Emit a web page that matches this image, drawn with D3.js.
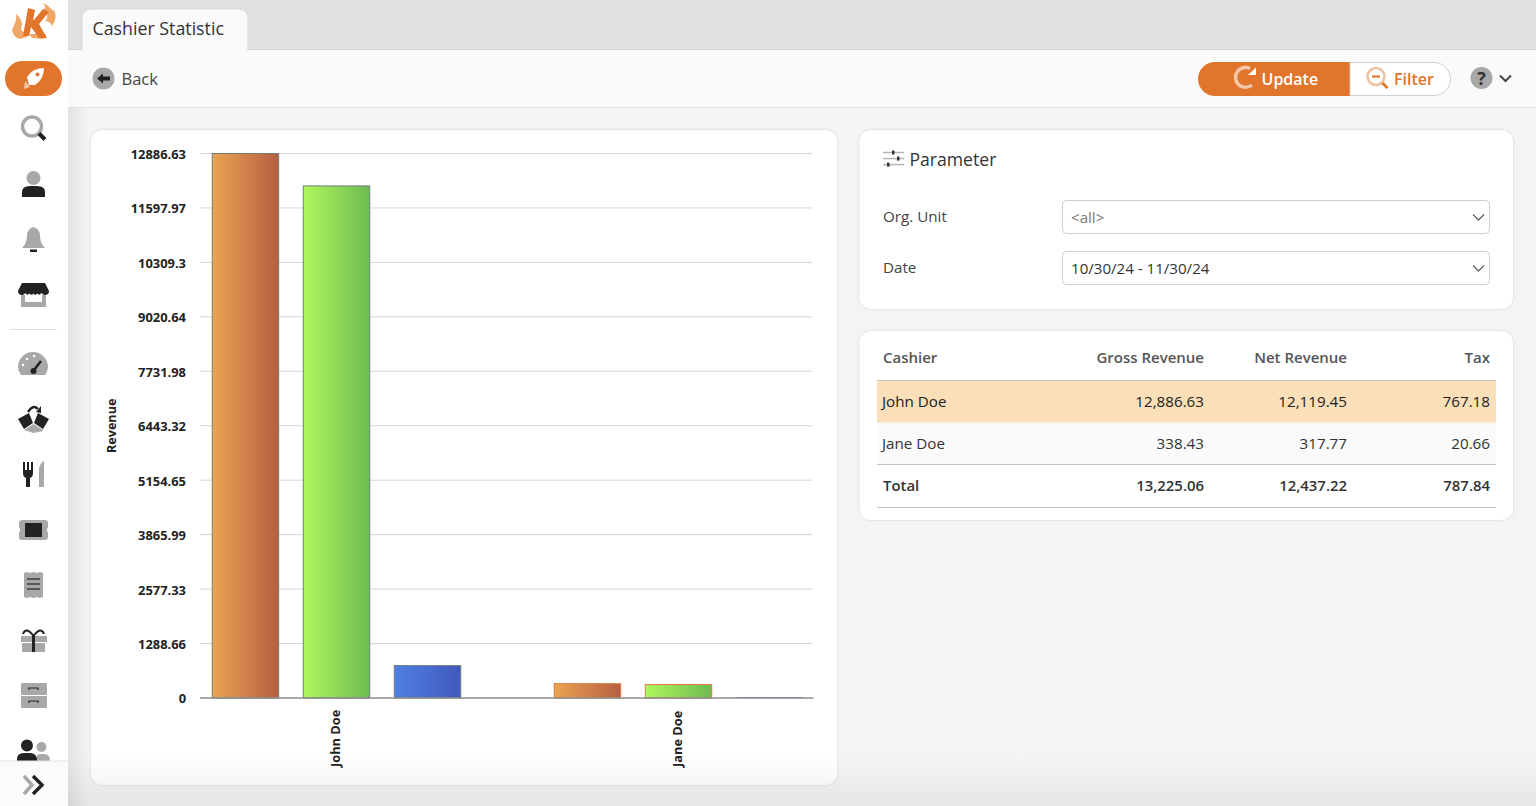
<!DOCTYPE html>
<html>
<head>
<meta charset="utf-8">
<title>Cashier Statistic</title>
<script src="https://cdnjs.cloudflare.com/ajax/libs/d3/7.8.5/d3.min.js"></script>
<style>
  html, body { margin: 0; padding: 0; background: #f4f4f4; overflow: hidden; }
  svg { display: block; font-family: "Open Sans", sans-serif; }
</style>
</head>
<body>
<svg id="page" width="1536" height="806"></svg>
<script>
// Chart data
const cashiers = ['John Doe', 'Jane Doe'];
const measures = ['Gross Revenue', 'Net Revenue', 'Tax'];
const grossRevenue = [12886.63, 338.43];
const netRevenue = [12119.45, 317.77];
const taxValues = [767.18, 20.66];
const yTicks = [0, 1288.66, 2577.33, 3865.99, 5154.65, 6443.32, 7731.98, 9020.64, 10309.3, 11597.97, 12886.63];

// Table data
const tableHeader = ['Cashier', 'Gross Revenue', 'Net Revenue', 'Tax'];
const grossLabels = ['12,886.63', '338.43', '13,225.06'];
const netLabels = ['12,119.45', '317.77', '12,437.22'];
const taxLabels = ['767.18', '20.66', '787.84'];
const rowNames = ['John Doe', 'Jane Doe', 'Total'];

const ORANGE = '#e2752c';
const DARK = '#222';
const GREY = '#a8a8a8';

const svg = d3.select('#page');
const defs = svg.append('defs');

function gradient(id, from, to) {
  const g = defs.append('linearGradient').attr('id', id);
  g.append('stop').attr('offset', '0%').attr('stop-color', from);
  g.append('stop').attr('offset', '100%').attr('stop-color', to);
}
gradient('barGross', '#eba452', '#b65e42');
gradient('barNet', '#b0f65c', '#6dbb52');
gradient('barTax', '#4f80e2', '#4158bd');

const shade = defs.append('linearGradient').attr('id', 'bottomShade').attr('x2', 0).attr('y2', 1);
shade.append('stop').attr('offset', '0%').attr('stop-color', '#000').attr('stop-opacity', 0);
shade.append('stop').attr('offset', '100%').attr('stop-color', '#000').attr('stop-opacity', 0.06);

const sideShade = defs.append('linearGradient').attr('id', 'sideShade');
sideShade.append('stop').attr('offset', '0%').attr('stop-color', '#000').attr('stop-opacity', 0.07);
sideShade.append('stop').attr('offset', '100%').attr('stop-color', '#000').attr('stop-opacity', 0);

const filter = defs.append('filter').attr('id', 'cardShadow')
  .attr('x', '-5%').attr('y', '-5%').attr('width', '110%').attr('height', '110%');
filter.append('feDropShadow').attr('dx', 0).attr('dy', 0).attr('stdDeviation', 1.2)
  .attr('flood-color', '#000').attr('flood-opacity', 0.18);

// Page frame
svg.append('rect').attr('width', 1536).attr('height', 806).attr('fill', '#f4f4f4');
svg.append('rect').attr('x', 68).attr('width', 1468).attr('height', 49).attr('fill', '#e0e0e0');
svg.append('rect').attr('x', 68).attr('y', 49).attr('width', 1468).attr('height', 58).attr('fill', '#fafafa');
svg.append('line').attr('x1', 68).attr('x2', 1536).attr('y1', 107.5).attr('y2', 107.5).attr('stroke', '#e2e2e2');
svg.append('line').attr('x1', 68).attr('x2', 1536).attr('y1', 49.5).attr('y2', 49.5).attr('stroke', '#d4d4d4');

// Tab
svg.append('path')
  .attr('d', 'M82 50V19Q82 9 92 9H238Q248 9 248 19V50Z')
  .attr('fill', '#fafafa').attr('stroke', '#d9d9d9');
svg.append('rect').attr('x', 83).attr('y', 48).attr('width', 164).attr('height', 3).attr('fill', '#fafafa');
svg.append('text').attr('x', 92.5).attr('y', 35).attr('font-size', 17.8).attr('fill', '#333').text('Cashier Statistic');

// Back button
svg.append('circle').attr('cx', 103.5).attr('cy', 78.5).attr('r', 11).attr('fill', GREY);
svg.append('path').attr('d', 'M97 78.5L103 73.5V76.5H110V80.5H103V83.5Z').attr('fill', DARK);
svg.append('text').attr('x', 121.5).attr('y', 84.5).attr('font-size', 16.5).attr('fill', '#444').text('Back');

// Update / Filter buttons
svg.append('path').attr('d', 'M1215 62H1350V96H1215A17 17 0 0 1 1215 62Z').attr('fill', ORANGE);
svg.append('path').attr('d', 'M1350 62.5H1434A16.5 16.5 0 0 1 1434 95.5H1350Z').attr('fill', '#fff').attr('stroke', '#d0d0d0');
svg.append('path').attr('d', 'M1250 68.5A10 10 0 1 0 1252 85').attr('fill', 'none').attr('stroke', '#f3c9a8').attr('stroke-width', 3.4);
svg.append('path').attr('d', 'M1248 75L1256 67.5V75Z').attr('fill', '#fff');
svg.append('text').attr('x', 1261.5).attr('y', 85).attr('font-size', 16).attr('font-weight', 600).attr('fill', '#fff').text('Update');
svg.append('circle').attr('cx', 1376).attr('cy', 76.5).attr('r', 8.5).attr('fill', '#fff').attr('stroke', '#f0c3a0').attr('stroke-width', 2.6);
svg.append('line').attr('x1', 1372).attr('x2', 1380).attr('y1', 76.5).attr('y2', 76.5).attr('stroke', ORANGE).attr('stroke-width', 2.2);
svg.append('line').attr('x1', 1382.5).attr('x2', 1387.5).attr('y1', 83).attr('y2', 88).attr('stroke', ORANGE).attr('stroke-width', 3);
svg.append('text').attr('x', 1394).attr('y', 85).attr('font-size', 16).attr('font-weight', 600).attr('fill', ORANGE).text('Filter');

// Help
svg.append('circle').attr('cx', 1481.5).attr('cy', 78).attr('r', 11).attr('fill', GREY);
svg.append('text').attr('x', 1481.5).attr('y', 84.5).attr('text-anchor', 'middle').attr('font-size', 18).attr('font-weight', 700).attr('fill', '#333').text('?');
svg.append('path').attr('d', 'M1500 75.5L1505.5 81L1511 75.5').attr('fill', 'none').attr('stroke', '#444').attr('stroke-width', 2);

// Cards
function card(x, y, w, h) {
  svg.append('rect').attr('x', x).attr('y', y).attr('width', w).attr('height', h)
    .attr('rx', 12).attr('fill', '#fff').attr('filter', 'url(#cardShadow)');
}
card(91, 130, 746, 655);
card(859.5, 130, 653.5, 179);
card(859.5, 331, 653.5, 189);

// Bar chart
const y = d3.scaleLinear().domain([0, 12886.63]).range([698, 153.5]);
const x0 = d3.scaleBand().domain(cashiers).range([165.5, 849.5]);
const x1 = d3.scaleBand().domain(measures).range([0, 248.5]).paddingInner(0.27);

const chart = svg.append('g').attr('class', 'chart');

const yAxis = d3.axisLeft(y).tickValues(yTicks).tickSize(0).tickPadding(14).tickFormat(d => String(d));
const yG = chart.append('g').attr('transform', 'translate(200,0.8)').call(yAxis);
yG.select('.domain').remove();
yG.selectAll('text').attr('font-family', '"Open Sans", sans-serif').attr('font-size', 12.9)
  .attr('font-weight', 700).attr('fill', '#222');

chart.append('g').selectAll('line')
  .data(yTicks.slice(1))
  .join('line')
  .attr('x1', 200).attr('x2', 812)
  .attr('y1', d => y(d)).attr('y2', d => y(d))
  .attr('stroke', '#d6d6d6').attr('stroke-width', 1);

const barData = measures.flatMap((m, i) => {
  const vals = [grossRevenue, netRevenue, taxValues][i];
  const fill = ['barGross', 'barNet', 'barTax'][i];
  return cashiers.map((c, j) => ({ cashier: c, measure: m, value: vals[j], fill: fill, big: j === 0 }));
});

chart.append('g').selectAll('rect')
  .data(barData)
  .join('rect')
  .attr('x', d => x0(d.cashier) + x0.bandwidth() / 2 - 124.25 + x1(d.measure))
  .attr('y', d => y(d.value))
  .attr('width', x1.bandwidth())
  .attr('height', d => y(0) - y(d.value))
  .attr('fill', d => `url(#${d.fill})`)
  // the smallest bar is under a pixel high, it disappears into the axis line
  .attr('stroke', d => y(0) - y(d.value) < 2 ? 'none' : (d.big ? '#6f7f7f' : '#dc7c3c'))
  .attr('stroke-width', 1);

chart.append('line').attr('x1', 200).attr('x2', 813.5).attr('y1', 698).attr('y2', 698)
  .attr('stroke', '#8c8c8c').attr('stroke-width', 1.6);

// Category labels
chart.append('g').selectAll('text')
  .data(cashiers)
  .join('text')
  .attr('transform', d => `translate(${x0(d) + x0.bandwidth() / 2 + 3.5},767) rotate(-90)`)
  .attr('font-size', 12.8).attr('font-weight', 700).attr('fill', '#222')
  .text(d => d);

chart.append('text')
  .attr('transform', 'translate(115.5,453) rotate(-90)')
  .attr('font-size', 12.6).attr('font-weight', 700).attr('fill', '#222')
  .text('Revenue');

// Parameter panel
[0, 5.5, 11].forEach((dy, i) => {
  svg.append('line').attr('x1', 883).attr('x2', 904).attr('y1', 152.5 + dy * 1.1).attr('y2', 152.5 + dy * 1.1)
    .attr('stroke', '#b5b5b5').attr('stroke-width', 1.5);
  svg.append('rect').attr('x', [892, 897, 887][i]).attr('y', 150.5 + dy * 1.1).attr('width', 2.5).attr('height', 4).attr('fill', '#333');
});
svg.append('text').attr('x', 909.5).attr('y', 165.5).attr('font-size', 17.6).attr('font-weight', 500).attr('fill', '#333').text('Parameter');

const selects = [
  { label: 'Org. Unit', value: '<all>', top: 200.5, labelY: 222, color: '#777' },
  { label: 'Date', value: '10/30/24 - 11/30/24', top: 251.5, labelY: 273, color: '#333' }
];
selects.forEach(s => {
  svg.append('text').attr('x', 883).attr('y', s.labelY).attr('font-size', 15.2).attr('fill', '#444').text(s.label);
  svg.append('rect').attr('x', 1062.5).attr('y', s.top).attr('width', 427).attr('height', 33).attr('rx', 4)
    .attr('fill', '#fff').attr('stroke', '#cfcfcf');
  svg.append('text').attr('x', 1071).attr('y', s.labelY + 0.5).attr('font-size', 15.1).attr('fill', s.color).text(s.value);
  svg.append('path').attr('d', `M1473 ${s.top + 14}L1478.5 ${s.top + 19.5}L1484 ${s.top + 14}`)
    .attr('fill', 'none').attr('stroke', '#666').attr('stroke-width', 1.4);
});

// Table
const colRight = [null, 1204, 1347, 1490];
svg.append('rect').attr('x', 877).attr('y', 381).attr('width', 619).attr('height', 41.5).attr('fill', '#fadfb9');
svg.append('rect').attr('x', 877).attr('y', 423).attr('width', 619).attr('height', 41.5).attr('fill', '#fafafa');

tableHeader.forEach((h, i) => {
  svg.append('text')
    .attr('x', i === 0 ? 883 : colRight[i]).attr('y', 363)
    .attr('text-anchor', i === 0 ? 'start' : 'end')
    .attr('font-size', 15).attr('font-weight', 600).attr('fill', '#555')
    .text(h);
});

[380.5, 464.5, 507.5].forEach(ly => {
  svg.append('line').attr('x1', 877).attr('x2', 1496).attr('y1', ly).attr('y2', ly).attr('stroke', '#c4c4c4');
});

const rowY = [407, 449, 491];
rowNames.forEach((name, i) => {
  const total = i === 2;
  const fill = i === 0 ? '#222' : '#333';
  const cells = [name, grossLabels[i], netLabels[i], taxLabels[i]];
  cells.forEach((txt, c) => {
    svg.append('text')
      .attr('x', c === 0 ? (total ? 883 : 882) : colRight[c]).attr('y', rowY[i])
      .attr('text-anchor', c === 0 ? 'start' : 'end')
      .attr('font-size', total ? 14.9 : 15.2)
      .attr('font-weight', total ? 600 : 400)
      .attr('fill', fill)
      .text(txt);
  });
});

// Soft fade along the bottom of the window and next to the sidebar
svg.append('rect').attr('x', 68).attr('y', 755).attr('width', 1468).attr('height', 51).attr('fill', 'url(#bottomShade)');
svg.append('rect').attr('x', 68).attr('y', 108).attr('width', 22).attr('height', 698).attr('fill', 'url(#sideShade)');

// Sidebar
const side = svg.append('g');
side.append('rect').attr('width', 68).attr('height', 806).attr('fill', '#fff');

// Logo
side.append('path')
  .attr('d', 'M14 25Q17 20 16 14Q21 18 22 24L21 30Q25 32 27 37L20 39Q13 37 12 30ZM44 9Q47 6 42 3Q47 4 50 8Q54 12 54 10Q58 18 52 26Q50 21 45 21Q50 17 44 9ZM29 34L46 34L44 39L32 38Z')
  .attr('fill', '#f0a868');
side.append('path')
  .attr('d', 'M28 8L35 10L33 21L43 9L49 12L39 24L47 38L39 38L31 27L29 36L23 36Z')
  .attr('fill', ORANGE);

// Active item
side.append('rect').attr('x', 5).attr('y', 61).attr('width', 57).attr('height', 35).attr('rx', 17.5).attr('fill', ORANGE);
side.append('path').attr('d', 'M29 85L27 77Q33 68 44 68Q44 79 35 85Z').attr('fill', '#fff');
side.append('circle').attr('cx', 37.5).attr('cy', 74.5).attr('r', 2).attr('fill', ORANGE);
side.append('path').attr('d', 'M24 89L25 81L30 87Z').attr('fill', '#f3c9a8');

// Search
side.append('circle').attr('cx', 32).attr('cy', 126.5).attr('r', 9.5).attr('fill', 'none').attr('stroke', GREY).attr('stroke-width', 3.4);
side.append('line').attr('x1', 39).attr('y1', 133.5).attr('x2', 45).attr('y2', 139.5).attr('stroke', DARK).attr('stroke-width', 4);

// Person
side.append('circle').attr('cx', 33.5).attr('cy', 178).attr('r', 7).attr('fill', GREY);
side.append('path').attr('d', 'M22 197V192Q22 186 30 186H37Q45 186 45 192V197Z').attr('fill', DARK);

// Bell
side.append('path').attr('d', 'M22 248Q27 243 27 236Q27 229 33.5 227Q40 229 40 236Q40 243 45 248Z').attr('fill', GREY);
side.append('rect').attr('x', 30).attr('y', 249.5).attr('width', 7).attr('height', 2.5).attr('fill', DARK);

// Shop
side.append('path').attr('d', 'M21 295V307H46V295H42V302H25V295Z').attr('fill', GREY);
side.append('path').attr('d', 'M22 283H45L49 291Q49 295 45 295Q43 295 41.5 293Q39 296 37.5 293.5Q35 296 33.5 293.5Q31 296 29.5 293.5Q27 296 25.5 293Q24 295 22 295Q18 295 18 291Z').attr('fill', DARK);

side.append('line').attr('x1', 10.5).attr('x2', 56.5).attr('y1', 329.5).attr('y2', 329.5).attr('stroke', '#e0e0e0');

// Gauge
side.append('path').attr('d', 'M21 375Q18 371 18 367A15 15 0 0 1 48 367Q48 371 45 375Z').attr('fill', GREY);
side.append('line').attr('x1', 34).attr('y1', 370).attr('x2', 41).attr('y2', 361).attr('stroke', DARK).attr('stroke-width', 2.6);
side.append('circle').attr('cx', 33.5).attr('cy', 371).attr('r', 3).attr('fill', DARK);
[[23, 365], [27, 359], [34, 356]].forEach(p => {
  side.append('circle').attr('cx', p[0]).attr('cy', p[1]).attr('r', 1.3).attr('fill', '#fff');
});

// Open box
side.append('path').attr('d', 'M24 430L33.5 424L43 430V431L33.5 433Z').attr('fill', GREY);
side.append('path').attr('d', 'M18 419L29 413L33 423L24 429ZM49 419L38 413L34 423L43 429Z').attr('fill', DARK);
side.append('path').attr('d', 'M28 412Q33 404 38 409').attr('fill', 'none').attr('stroke', DARK).attr('stroke-width', 2.4);
side.append('path').attr('d', 'M36 412L41 406V413Z').attr('fill', DARK);

// Fork and knife
side.append('path').attr('d', 'M23 462H25V470H27V462H29V470H31V462H33V473Q33 477 30 478V487H26V478Q23 477 23 473Z').attr('fill', DARK);
side.append('path').attr('d', 'M39 487V468Q41 462 44 461V487Z').attr('fill', GREY);

// Ticket
side.append('path').attr('d', 'M22 520H45Q48 520 48 523V527Q46 530 48 533V537Q48 540 45 540H22Q19 540 19 537V533Q21 530 19 527V523Q19 520 22 520Z').attr('fill', GREY);
side.append('rect').attr('x', 25).attr('y', 523).attr('width', 17).attr('height', 14).attr('fill', DARK);

// Receipt
side.append('path').attr('d', 'M24 573L27 572L30 573L33.5 572L37 573L40 572L43 573V597L40 598L37 597L33.5 598L30 597L27 598L24 597Z').attr('fill', GREY);
[579, 584, 589].forEach(ly => {
  side.append('line').attr('x1', 27).attr('x2', 40).attr('y1', ly).attr('y2', ly).attr('stroke', '#444').attr('stroke-width', 1.6);
});

// Gift
side.append('rect').attr('x', 21).attr('y', 636).attr('width', 26).attr('height', 6).attr('fill', GREY);
side.append('rect').attr('x', 22).attr('y', 643).attr('width', 23).attr('height', 9).attr('rx', 1).attr('fill', GREY);
side.append('rect').attr('x', 32).attr('y', 635).attr('width', 3).attr('height', 17).attr('fill', DARK);
side.append('path').attr('d', 'M33.5 636Q26 626 23 634M33.5 636Q41 626 44 634').attr('fill', 'none').attr('stroke', DARK).attr('stroke-width', 2);

// Drawers
side.append('rect').attr('x', 21).attr('y', 683).attr('width', 26).attr('height', 12).attr('rx', 1).attr('fill', GREY);
side.append('rect').attr('x', 21).attr('y', 696).attr('width', 26).attr('height', 12).attr('rx', 1).attr('fill', GREY);
[689, 702].forEach(ly => {
  side.append('path').attr('d', `M29 ${ly + 1}V${ly - 1}H38V${ly + 1}`).attr('fill', 'none').attr('stroke', DARK).attr('stroke-width', 1.2);
});

// People
side.append('circle').attr('cx', 41.5).attr('cy', 747).attr('r', 5).attr('fill', GREY);
side.append('path').attr('d', 'M36 761V759Q36 754 41 754H44Q50 754 50 761Z').attr('fill', GREY);
side.append('circle').attr('cx', 27).attr('cy', 745.5).attr('r', 6).attr('fill', DARK);
side.append('path').attr('d', 'M17 761V759Q17 753 24 753H30Q37 753 37 761Z').attr('fill', DARK);

// Sidebar footer
side.append('rect').attr('y', 761).attr('width', 68).attr('height', 45).attr('fill', '#fbfbfb');
side.append('line').attr('x1', 0).attr('x2', 68).attr('y1', 761).attr('y2', 761).attr('stroke', '#e0e0e0');
side.append('path').attr('d', 'M24 776L32 785L24 794').attr('fill', 'none').attr('stroke', GREY).attr('stroke-width', 3.4);
side.append('path').attr('d', 'M33 776L42 785L33 794').attr('fill', 'none').attr('stroke', DARK).attr('stroke-width', 3.4);
</script>
</body>
</html>
